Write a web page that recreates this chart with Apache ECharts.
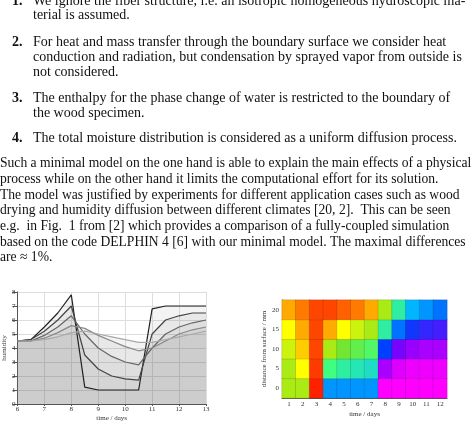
<!DOCTYPE html>
<html><head><meta charset="utf-8">
<script src="https://cdn.jsdelivr.net/npm/echarts@6/dist/echarts.min.js"></script>
<style>html,body{margin:0;padding:0;background:#fff}#c{width:474px;height:432px}</style>
</head><body><div id="c"></div>
<script>
var textLines = [
  ["1.", "We ignore the fiber structure, i.e. an isotropic homogeneous hydroscopic ma-", 1],
  ["", "terial is assumed.", 15],
  ["2.", "For heat and mass transfer through the boundary surface we consider heat", 42],
  ["", "conduction and radiation, but condensation by sprayed vapor from outside is", 57],
  ["", "not considered.", 72],
  ["3.", "The enthalpy for the phase change of water is restricted to the boundary of", 98],
  ["", "the wood specimen.", 113],
  ["4.", "The total moisture distribution is considered as a uniform diffusion process.", 138]
];
var paraLines = [
  ["Such a minimal model on the one hand is able to explain the main effects of a physical", 163],
  ["process while on the other hand it limits the computational effort for its solution.", 179],
  ["The model was justified by experiments for different application cases such as wood", 195],
  ["drying and humidity diffusion between different climates [20, 2].  This can be seen", 210],
  ["e.g.  in Fig.  1 from [2] which provides a comparison of a fully-coupled simulation", 226],
  ["based on the code DELPHIN 4 [6] with our minimal model. The maximal differences", 242],
  ["are \u2248 1%.", 257]
];
var leftTimes = [6,6.5,7,7.5,8,8.5,9,9.5,10,10.5,11,11.5,12,12.5,13];
var leftDepths = ["0","4","8","12","16"];
var leftHum = [
  [4.5,4.6,5.5,6.5,7.8,1.2,1.0,1.0,1.0,1.0,6.8,7.0,7.0,7.0,7.0],
  [4.5,4.6,5.2,6.0,7.0,3.5,2.5,2.0,1.8,1.7,5.0,6.0,6.3,6.5,6.5],
  [4.5,4.5,4.9,5.5,6.3,5.0,4.0,3.4,3.0,2.8,4.0,5.0,5.5,5.8,6.0],
  [4.5,4.5,4.7,5.1,5.6,5.4,4.9,4.5,4.1,3.8,4.0,4.5,5.0,5.3,5.5],
  [4.5,4.5,4.6,4.8,5.1,5.2,5.0,4.8,4.6,4.4,4.4,4.6,4.8,5.0,5.2]
];
var rightTimes = ["1","2","3","4","5","6","7","8","9","10","11","12"];
var rightDist = ["0","5","10","15","20"];
var rightHum = [
  [0.07,0.07,0.09,0.05,0.05,0.05,0.05,0.03,0.03,0.03,0.03,0.03],
  [0.07,0.075,0.088,0.06,0.058,0.057,0.056,0.035,0.032,0.031,0.031,0.031],
  [0.072,0.078,0.087,0.07,0.066,0.064,0.062,0.045,0.038,0.036,0.035,0.035],
  [0.075,0.08,0.087,0.08,0.075,0.072,0.07,0.058,0.048,0.044,0.042,0.041],
  [0.08,0.083,0.087,0.087,0.085,0.083,0.08,0.07,0.058,0.052,0.05,0.048]
];

var serif = "Liberation Serif";
var graphics = [];
function txt(x, y, s, bold, size){
  graphics.push({type:'text', x:x, y:y, style:{text:s, font:(bold?'bold ':'')+(size||14)+'px '+serif, fill:'#111', verticalAlign:'middle'}});
}
textLines.forEach(function(l){
  if (l[0]) txt(12, l[2], l[0], true);
  txt(33, l[2], l[1]);
});
paraLines.forEach(function(l){ txt(0, l[1], l[0], false, 13.6); });

var heat = [];
rightHum.forEach(function(row, j){ row.forEach(function(v, i){ heat.push([i, j, v]); }); });

var axisFont = {fontFamily: serif, fontSize: 7, color:'#333'};
var option = {
  animation:false,
  graphic: graphics,
  grid: [
    {left:16, top:292, width:190, height:112},
    {left:282, top:300, width:165, height:98}
  ],
  xAxis: [
    {gridIndex:0, type:'value', min:6, max:13, interval:1, name:'time / days', nameLocation:'middle', nameGap:11,
     nameTextStyle:axisFont, axisLabel:Object.assign({margin:2},axisFont), axisLine:{lineStyle:{color:'#555'}}, axisTick:{length:2}, splitLine:{lineStyle:{color:'#ddd'}}},
    {gridIndex:1, type:'category', data:rightTimes, name:'time / days', nameLocation:'middle', nameGap:13,
     nameTextStyle:axisFont, axisLabel:Object.assign({margin:3},axisFont), axisLine:{lineStyle:{color:'#555'}}, axisTick:{length:2}}
  ],
  yAxis: [
    {gridIndex:0, type:'value', min:0, max:8, interval:1, name:'humidity', nameLocation:'middle', nameGap:9,
     nameTextStyle:axisFont, axisLabel:Object.assign({margin:2},axisFont), axisLine:{show:true,lineStyle:{color:'#555'}}, splitLine:{lineStyle:{color:'#ddd'}}},
    {gridIndex:1, type:'category', data:rightDist, name:'distance from surface / mm', nameLocation:'middle', nameGap:14,
     nameTextStyle:axisFont, axisLabel:Object.assign({margin:3},axisFont), axisLine:{lineStyle:{color:'#555'}}}
  ],
  visualMap: {show:false, min:0.03, max:0.09, seriesIndex:leftDepths.length,
    inRange:{color:['#ff00ff','#8000ff','#0040ff','#00c0ff','#40ff80','#80e020','#ffff00','#ff8000','#ff2000']}},
  series: leftHum.map(function(row, k){
    return {type:'line', xAxisIndex:0, yAxisIndex:0, name:leftDepths[k], showSymbol:false,
      data: row.map(function(v,i){ return [leftTimes[i], v]; }),
      lineStyle:{color:['#222','#444','#666','#888','#aaa'][k], width:1.2}, areaStyle:{color:'rgba(120,120,120,0.12)'}};
  }).concat([{type:'heatmap', xAxisIndex:1, yAxisIndex:1, data:heat, itemStyle:{borderColor:'rgba(0,0,0,0.25)', borderWidth:0.5}}])
};
echarts.init(document.getElementById('c')).setOption(option);
</script></body></html>
